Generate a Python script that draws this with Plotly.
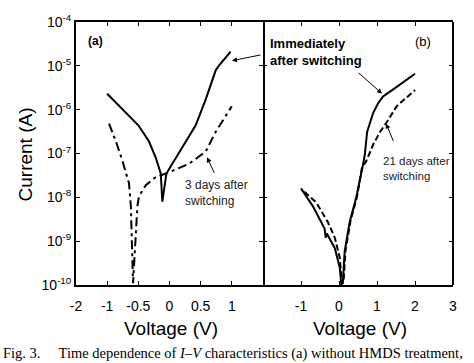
import plotly.graph_objects as go

# ---------------- data ----------------
# Panel (a): without HMDS treatment
a_imm_v = [-1.0, -0.75, -0.5, -0.33, -0.22, -0.14, -0.115, -0.05, 0.10, 0.26, 0.42, 0.58, 0.74, 0.79, 0.98]
a_imm_i = [2.3e-6, 1.0e-6, 4.4e-7, 1.9e-7, 8.0e-8, 3.5e-8, 8.0e-9, 3.5e-8, 8.0e-8, 1.9e-7, 4.4e-7, 1.7e-6, 7.8e-6, 1.0e-5, 2.1e-5]

a_3d_v = [-0.97, -0.86, -0.755, -0.675, -0.65, -0.62, -0.595, -0.585, -0.515, -0.49, -0.38, -0.22, -0.01, 0.31, 0.58, 0.74, 1.0]
a_3d_i = [4.8e-7, 1.9e-7, 6.8e-8, 2.9e-8, 2.1e-8, 6.3e-9, 1.1e-10, 1.1e-10, 6.3e-9, 1.05e-8, 1.9e-8, 2.9e-8, 3.7e-8, 5.8e-8, 1.1e-7, 3.1e-7, 1.2e-6]

# Panel (b)
b_imm_v = [-1.0, -0.69, -0.38, -0.35, -0.32, -0.11, 0.02, 0.06, 0.10, 0.15, 0.28, 0.46, 0.635, 0.68, 0.74, 0.81, 0.9, 1.03, 1.16, 1.52, 2.0]
b_imm_i = [1.6e-8, 6.3e-9, 1.95e-9, 1.2e-9, 1.5e-9, 6.9e-10, 2.5e-10, 1.05e-10, 1.1e-10, 5.9e-10, 2.7e-9, 1.05e-8, 5.8e-8, 9.5e-8, 3.1e-7, 5.1e-7, 8.5e-7, 1.4e-6, 2.0e-6, 3.3e-6, 6.6e-6]

b_21d_v = [-0.91, -0.6, -0.29, -0.11, 0.02, 0.08, 0.12, 0.17, 0.3, 0.48, 0.6, 0.72, 0.9, 1.08, 1.25, 1.52, 2.0]
b_21d_i = [1.35e-8, 7.6e-9, 2.7e-9, 1.2e-9, 4.2e-10, 1.05e-10, 1.2e-10, 6.0e-10, 2.8e-9, 1.1e-8, 4.5e-8, 6.8e-8, 1.6e-7, 3.1e-7, 5.1e-7, 1.2e-6, 2.8e-6]

y_tickvals = [1e-10, 1e-9, 1e-8, 1e-7, 1e-6, 1e-5, 1e-4]
y_ticktext = ["10<sup>-10</sup>", "10<sup>-9</sup>", "10<sup>-8</sup>", "10<sup>-7</sup>",
              "10<sup>-6</sup>", "10<sup>-5</sup>", "10<sup>-4</sup>"]
xa_tickvals = [-1.5, -1, -0.5, 0, 0.5, 1, 1.5]
xa_ticktext = ["-2", "-1", "-0.5", "0", "0.5", "1", ""]
xb_tickvals = [-2, -1, 0, 1, 2, 3]
xb_ticktext = ["", "-1", "0", "1", "2", "3"]

# ---------------- figure ----------------
W, H = 474, 363
ML, MR, MT, MB = 76, 21, 13, 78
PW, PH = W - ML - MR, H - MT - MB


def px(x):
    return (x - ML) / PW


def py(y):
    return (H - MB - y) / PH


FONT = "Arial, Liberation Sans, sans-serif"
SERIF = "Times New Roman, Liberation Serif, serif"

fig = go.Figure()
fig.add_trace(go.Scatter(x=a_imm_v, y=a_imm_i, mode="lines", xaxis="x", yaxis="y",
                         line=dict(color="black", width=2), showlegend=False))
fig.add_trace(go.Scatter(x=a_3d_v, y=a_3d_i, mode="lines", xaxis="x", yaxis="y",
                         line=dict(color="black", width=2, dash="9px,4px,3px,4px"), showlegend=False))
fig.add_trace(go.Scatter(x=b_imm_v, y=b_imm_i, mode="lines", xaxis="x2", yaxis="y2",
                         line=dict(color="black", width=2), showlegend=False))
fig.add_trace(go.Scatter(x=b_21d_v, y=b_21d_i, mode="lines", xaxis="x2", yaxis="y2",
                         line=dict(color="black", width=2, dash="6px,3px"), showlegend=False))

split = (263 - ML) / PW
tick_common = dict(ticks="inside", ticklen=4, tickwidth=1, tickcolor="black",
                   showgrid=False, zeroline=False,
                   tickfont=dict(family=FONT, size=14, color="black"))
line_common = dict(showline=True, linecolor="black", linewidth=2, mirror="ticks")

fig.update_layout(
    width=W, height=H,
    margin=dict(l=ML, r=MR, t=MT, b=MB),
    paper_bgcolor="white", plot_bgcolor="white",
    xaxis=dict(domain=[0, split], range=[-1.5, 1.5], anchor="y",
               tickmode="array", tickvals=xa_tickvals, ticktext=xa_ticktext,
               ticklabelstandoff=7, **tick_common, **line_common),
    xaxis2=dict(domain=[split, 1], range=[-2, 3], anchor="y2",
                tickmode="array", tickvals=xb_tickvals, ticktext=xb_ticktext,
                ticklabelstandoff=7, **tick_common, **line_common),
    yaxis=dict(type="log", range=[-10, -4], anchor="x",
               tickmode="array", tickvals=y_tickvals, ticktext=y_ticktext,
               **tick_common, **line_common),
    yaxis2=dict(type="log", range=[-10, -4], anchor="x2", matches="y",
                tickmode="array", tickvals=y_tickvals, showticklabels=False,
                showline=False, mirror="ticks", **tick_common),
    shapes=[dict(type="line", xref="paper", yref="paper", x0=1, x1=1, y0=0, y1=1,
                 line=dict(color="black", width=2))],
)

ann = []
# axis titles
ann.append(dict(text="Current (A)", x=px(25), y=py(150), textangle=-90,
                font=dict(family=FONT, size=19, color="black")))
ann.append(dict(text="Voltage (V)", x=px(171), y=py(330),
                font=dict(family=FONT, size=19, color="black")))
ann.append(dict(text="Voltage (V)", x=px(360), y=py(330),
                font=dict(family=FONT, size=19, color="black")))
# panel labels
ann.append(dict(text="<b>(a)</b>", x=px(95), y=py(33),
                font=dict(family=FONT, size=12, color="black")))
ann.append(dict(text="(b)", x=px(423), y=py(33),
                font=dict(family=FONT, size=13, color="black")))
for a in ann:
    a.update(xanchor="center", yanchor="middle")
# notes
ann.append(dict(text="<b>Immediately<br>after switching</b>", x=px(268), y=py(25),
                xanchor="left", yanchor="top", align="left",
                font=dict(family=FONT, size=13, color="black")))
ann.append(dict(text="3 days after<br>switching", x=px(183), y=py(172),
                xanchor="left", yanchor="top", align="left",
                font=dict(family=FONT, size=12, color="#222")))
ann.append(dict(text="21 days after<br>switching", x=px(381), y=py(148),
                xanchor="left", yanchor="top", align="left",
                font=dict(family=FONT, size=11.5, color="#222")))
# caption
NB = "\u00a0"
ann.append(dict(text="Fig. 3." + NB * 5 + "Time dependence of <i>I</i>–<i>V</i> characteristics (a) without HMDS treatment,",
                x=px(1), y=py(345), xanchor="left", yanchor="top",
                font=dict(family=SERIF, size=14.5, color="black")))
for a in ann:
    a.update(xref="paper", yref="paper", showarrow=False)

# arrows (head position, tail offset in px)
arrows = [((232, 53), (30, -6)), ((382, 87), (-25, -22)),
          ((207, 153), (8, 17)), ((386, 118), (8, 19))]
for (hx, hy), (ox, oy) in arrows:
    ann.append(dict(text="", x=px(hx), y=py(hy), xref="paper", yref="paper",
                    ax=ox, ay=oy, showarrow=True, arrowhead=2, arrowsize=1,
                    arrowwidth=1, arrowcolor="black", standoff=0, startstandoff=0))

fig.update_layout(annotations=ann)
fig.write_html("out.html", config={"displayModeBar": False},
               post_script="document.body.style.margin='0';")
